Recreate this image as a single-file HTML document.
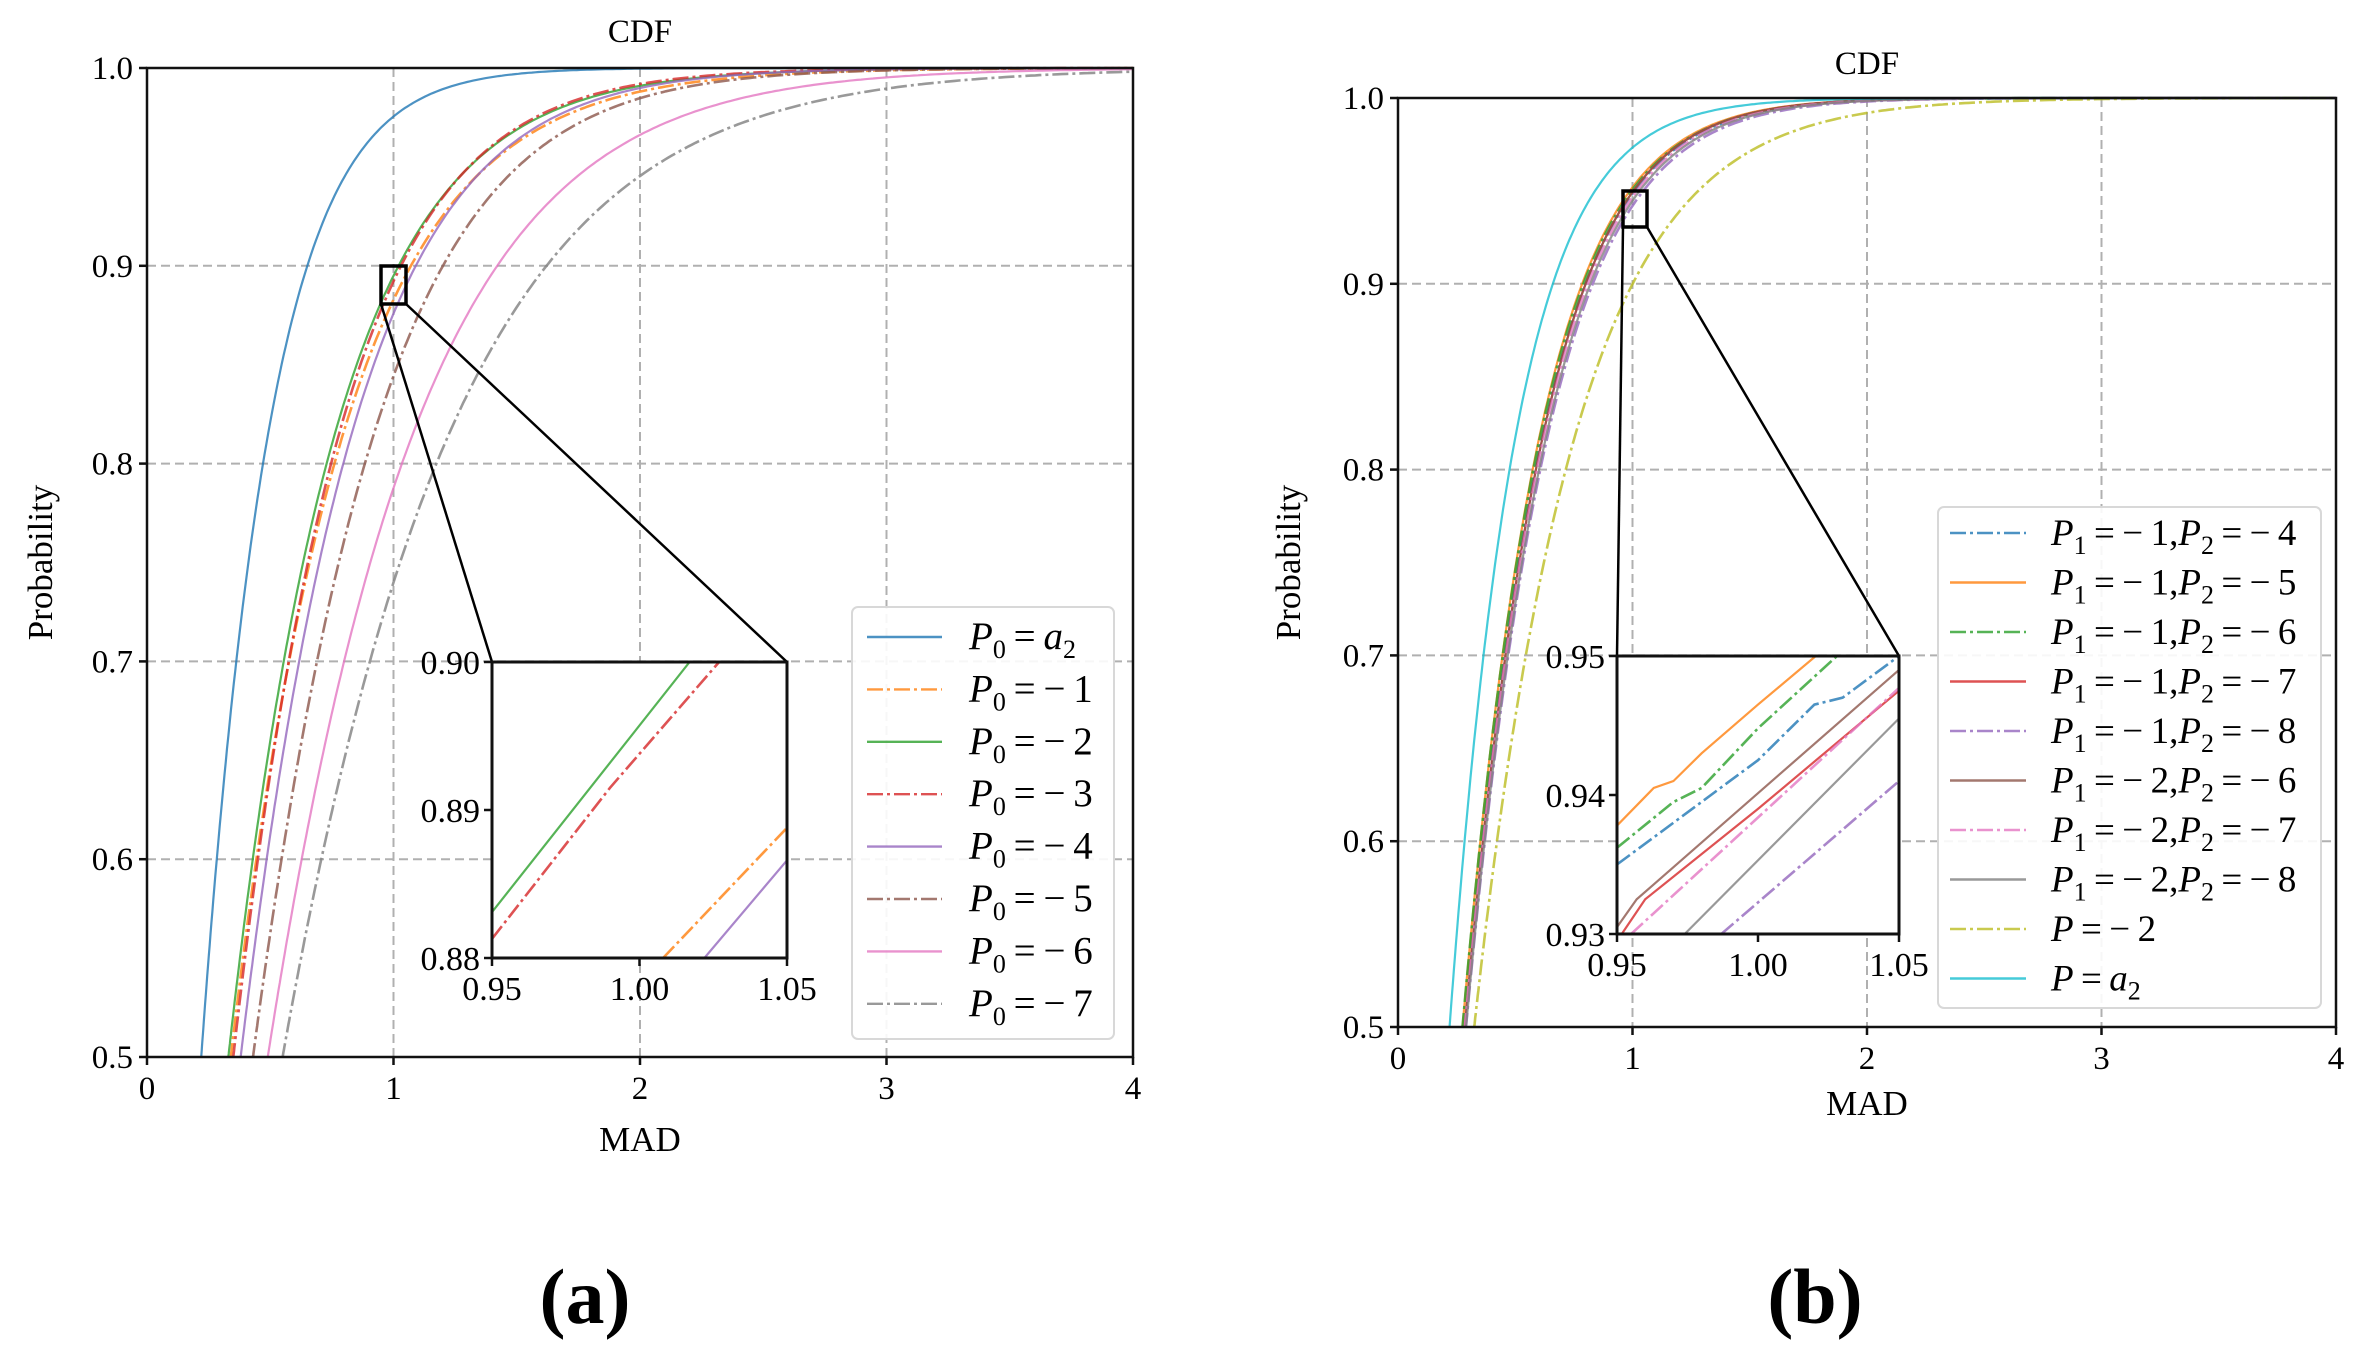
<!DOCTYPE html>
<html><head><meta charset="utf-8"><style>
html,body{margin:0;padding:0;background:#fff;}
svg{display:block;font-family:"Liberation Serif",serif;}
</style></head><body>
<svg id="s" width="2362" height="1360" viewBox="0 0 2362 1360" xmlns="http://www.w3.org/2000/svg">
<text x="585" y="1323" font-size="78" font-weight="bold" text-anchor="middle">(a)</text>
<text x="1815" y="1323" font-size="78" font-weight="bold" text-anchor="middle">(b)</text>
</svg>
<script>
const S=document.getElementById('s');const NS='http://www.w3.org/2000/svg';
function el(t,a,p){const e=document.createElementNS(NS,t);for(const k in a)e.setAttribute(k,a[k]);(p||S).appendChild(e);return e;}
const DD="16 4 3 4";
function weib(x50,x90){const k=1.2/Math.log(x90/x50);const lam=x50/Math.pow(0.693147,1/k);return x=>1-Math.exp(-Math.pow(x/lam,k));}
function invert(F,y){let a=0,b=10;for(let i=0;i<60;i++){const m=(a+b)/2;if(F(m)<y)a=m;else b=m;}return (a+b)/2;}
function legendText(g,x,y,parts,fs){
  const t=el('text',{x:x,y:y,'font-size':fs},g);
  parts.forEach(p=>{const s=el('tspan',p.a||{},t);s.textContent=p.t;});
}
const SUB=(s)=>({t:s,a:{'font-size':26,dy:9}});
function P(sub,val){return [{t:'P',a:{'font-style':'italic'}},SUB(sub),{t:'\u2009=\u2009'+val,a:{dy:-9}}];}
function P2(a,b){return [{t:'P',a:{'font-style':'italic'}},SUB('1'),{t:'\u2009=\u2009\u2212\u2009'+a+',',a:{dy:-9}},{t:'P',a:{'font-style':'italic'}},SUB('2'),{t:'\u2009=\u2009\u2212\u2009'+b,a:{dy:-9}}];}

function plot(cfg){
  const {x0,x1,y0,y1}=cfg;
  const X=v=>x0+(x1-x0)*v/4, Y=p=>y1-(y1-y0)*(p-0.5)/0.5;
  for(let i=1;i<4;i++) el('line',{x1:X(i),x2:X(i),y1:y0,y2:y1,stroke:'#b0b0b0','stroke-width':2,'stroke-dasharray':'9 5'});
  for(let i=1;i<5;i++) el('line',{x1:x0,x2:x1,y1:Y(0.5+i*0.1),y2:Y(0.5+i*0.1),stroke:'#b0b0b0','stroke-width':2,'stroke-dasharray':'9 5'});
  const cid='c'+cfg.id;const cp=el('clipPath',{id:cid});el('rect',{x:x0,y:y0-3,width:x1-x0,height:y1-y0+3},cp);
  const g=el('g',{'clip-path':'url(#'+cid+')'});
  cfg.series.forEach(s=>{
    const xs=invert(s.F,0.499);let d='';
    for(let i=0;i<=300;i++){const x=xs+(4-xs)*Math.pow(i/300,1.6);d+=(i?'L':'M')+X(x).toFixed(1)+','+Y(s.F(x)).toFixed(1);}
    const a={d:d,fill:'none',stroke:s.c,'stroke-width':2.2,'stroke-opacity':0.8};if(s.dd){a['stroke-dasharray']=DD;a['stroke-width']=2.6;}el('path',a,g);
  });
  el('rect',{x:x0,y:y0,width:x1-x0,height:y1-y0,fill:'none',stroke:'#111','stroke-width':2.5});
  for(let i=0;i<=4;i++){el('line',{x1:X(i),x2:X(i),y1:y1,y2:y1+8,stroke:'#111','stroke-width':2.5});
    const t=el('text',{x:X(i),y:y1+42,'font-size':33,'text-anchor':'middle'});t.textContent=i;}
  for(let i=0;i<=5;i++){const p=0.5+i*0.1;el('line',{x1:x0-8,x2:x0,y1:Y(p),y2:Y(p),stroke:'#111','stroke-width':2.5});
    const t=el('text',{x:x0-14,y:Y(p)+11,'font-size':33,'text-anchor':'end'});t.textContent=p.toFixed(1);}
  let t=el('text',{x:(x0+x1)/2,y:cfg.ty,'font-size':33,'text-anchor':'middle'});t.textContent='CDF';
  t=el('text',{x:(x0+x1)/2,y:cfg.my,'font-size':35,'text-anchor':'middle'});t.textContent='MAD';
  t=el('text',{x:0,y:0,'font-size':35,'text-anchor':'middle',transform:`translate(${cfg.py},${(y0+y1)/2}) rotate(-90)`});t.textContent='Probability';
  const b=cfg.box,ins=cfg.ins;
  el('line',{x1:b[0],y1:b[3],x2:ins.x0,y2:ins.y0,stroke:'#000','stroke-width':2.5});
  el('line',{x1:b[2],y1:b[3],x2:ins.x1,y2:ins.y0,stroke:'#000','stroke-width':2.5});
  el('rect',{x:b[0],y:b[1],width:b[2]-b[0],height:b[3]-b[1],fill:'none',stroke:'#000','stroke-width':3.5});
  el('rect',{x:ins.x0,y:ins.y0,width:ins.x1-ins.x0,height:ins.y1-ins.y0,fill:'#fff'});
  const IX=v=>ins.x0+(ins.x1-ins.x0)*(v-0.95)/0.1, IY=p=>ins.y1-(ins.y1-ins.y0)*(p-ins.p0)/(ins.p1-ins.p0);
  const icid='ic'+cfg.id;const icp=el('clipPath',{id:icid});el('rect',{x:ins.x0,y:ins.y0,width:ins.x1-ins.x0,height:ins.y1-ins.y0},icp);
  const ig=el('g',{'clip-path':'url(#'+icid+')'});
  ins.lines.forEach(l=>{const d=l.p.map((q,i)=>(i?'L':'M')+IX(q[0]).toFixed(1)+','+IY(q[1]).toFixed(1)).join('');
    const a={d:d,fill:'none',stroke:l.c,'stroke-width':2.2,'stroke-opacity':0.8};if(l.dd){a['stroke-dasharray']=DD;a['stroke-width']=2.6;}el('path',a,ig);});
  el('rect',{x:ins.x0,y:ins.y0,width:ins.x1-ins.x0,height:ins.y1-ins.y0,fill:'none',stroke:'#111','stroke-width':3});
  [0.95,1.00,1.05].forEach(v=>{el('line',{x1:IX(v),x2:IX(v),y1:ins.y1,y2:ins.y1+8,stroke:'#111','stroke-width':2.5});
    const t=el('text',{x:IX(v),y:ins.y1+42,'font-size':34,'text-anchor':'middle'});t.textContent=v.toFixed(2);});
  [ins.p0,(ins.p0+ins.p1)/2,ins.p1].forEach(p=>{el('line',{x1:ins.x0-8,x2:ins.x0,y1:IY(p),y2:IY(p),stroke:'#111','stroke-width':2.5});
    const t=el('text',{x:ins.x0-12,y:IY(p)+12,'font-size':34,'text-anchor':'end'});t.textContent=p.toFixed(2);});
  const L=cfg.leg;
  el('rect',{x:L.x0,y:L.y0,width:L.x1-L.x0,height:L.y1-L.y0,rx:6,fill:'#fff','fill-opacity':0.9,stroke:'#d8d8d8','stroke-width':2});
  cfg.series.forEach((s,i)=>{const y=L.r0+i*L.dy;
    const a={x1:L.lx0,x2:L.lx1,y1:y,y2:y,stroke:s.c,'stroke-width':2.4,'stroke-opacity':0.8};if(s.dd)a['stroke-dasharray']=DD;el('line',a);
    legendText(S,L.tx,y+12,s.lab,L.fs);});
}
const A2=[{t:'a',a:{'font-style':'italic'}},{t:'2',a:{'font-size':26,dy:9}}];
plot({id:'a',x0:147,x1:1133,y0:68,y1:1057,ty:42,my:1151,py:52,box:[381,266,406,304],
 series:[
  {c:'#1f77b4',F:weib(0.22,0.65),lab:[{t:'P',a:{'font-style':'italic'}},SUB('0'),{t:'\u2009=\u2009',a:{dy:-9}}].concat(A2)},
  {c:'#ff7f0e',dd:1,F:weib(0.34,1.07),lab:P('0','\u2212\u20091')},
  {c:'#2ca02c',F:weib(0.33,1.02),lab:P('0','\u2212\u20092')},
  {c:'#d62728',dd:1,F:weib(0.35,1.03),lab:P('0','\u2212\u20093')},
  {c:'#9467bd',F:weib(0.38,1.09),lab:P('0','\u2212\u20094')},
  {c:'#8c564b',dd:1,F:weib(0.43,1.2),lab:P('0','\u2212\u20095')},
  {c:'#e377c2',F:weib(0.49,1.42),lab:P('0','\u2212\u20096')},
  {c:'#7f7f7f',dd:1,F:weib(0.55,1.62),lab:P('0','\u2212\u20097')}],
 ins:{x0:492,x1:787,y0:662,y1:958,p0:0.88,p1:0.90,lines:[
  {c:'#2ca02c',p:[[0.95,0.8831],[1.017,0.90]]},
  {c:'#d62728',dd:1,p:[[0.95,0.8813],[0.99,0.8915],[1.027,0.90]]},
  {c:'#ff7f0e',dd:1,p:[[1.008,0.88],[1.05,0.8888]]},
  {c:'#9467bd',p:[[1.022,0.88],[1.05,0.8866]]}]},
 leg:{x0:852,x1:1114,y0:607,y1:1039,r0:637,dy:52.4,lx0:867,lx1:942,tx:969,fs:39}
});
plot({id:'b',x0:1398,x1:2336,y0:98,y1:1027,ty:74,my:1115,py:1300,box:[1623,191,1647,227],
 series:[
  {c:'#1f77b4',dd:1,F:weib(0.28,0.80),lab:P2(1,4)},
  {c:'#ff7f0e',F:weib(0.275,0.785),lab:P2(1,5)},
  {c:'#2ca02c',dd:1,F:weib(0.275,0.79),lab:P2(1,6)},
  {c:'#d62728',F:weib(0.285,0.80),lab:P2(1,7)},
  {c:'#9467bd',dd:1,F:weib(0.29,0.83),lab:P2(1,8)},
  {c:'#8c564b',F:weib(0.285,0.80),lab:P2(2,6)},
  {c:'#e377c2',dd:1,F:weib(0.285,0.81),lab:P2(2,7)},
  {c:'#7f7f7f',F:weib(0.29,0.82),lab:P2(2,8)},
  {c:'#bcbd22',dd:1,F:weib(0.325,1.0),lab:[{t:'P',a:{'font-style':'italic'}},{t:'\u2009=\u2009\u2212\u20092'}]},
  {c:'#17becf',F:weib(0.22,0.66),lab:[{t:'P',a:{'font-style':'italic'}},{t:'\u2009=\u2009'}].concat(A2)}],
 ins:{x0:1617,x1:1899,y0:656,y1:934,p0:0.93,p1:0.95,lines:[
  {c:'#ff7f0e',p:[[0.95,0.9378],[0.963,0.9405],[0.97,0.941],[0.98,0.943],[1.0,0.9465],[1.0205,0.95]]},
  {c:'#2ca02c',dd:1,p:[[0.95,0.9362],[0.97,0.9395],[0.98,0.9405],[1.0,0.9448],[1.028,0.95]]},
  {c:'#1f77b4',dd:1,p:[[0.95,0.935],[0.97,0.938],[1.0,0.9425],[1.02,0.9465],[1.03,0.947],[1.05,0.95]]},
  {c:'#8c564b',p:[[0.95,0.9305],[0.957,0.9325],[1.05,0.949]]},
  {c:'#d62728',p:[[0.95,0.9295],[0.96,0.9325],[1.0,0.939],[1.05,0.9475]]},
  {c:'#e377c2',dd:1,p:[[0.955,0.93],[1.05,0.9477]]},
  {c:'#7f7f7f',p:[[0.974,0.93],[1.05,0.9455]]},
  {c:'#9467bd',dd:1,p:[[0.987,0.93],[1.05,0.941]]}]},
 leg:{x0:1938,x1:2321,y0:507,y1:1008,r0:533,dy:49.5,lx0:1950,lx1:2026,tx:2051,fs:37}
});
</script>
</body></html>
